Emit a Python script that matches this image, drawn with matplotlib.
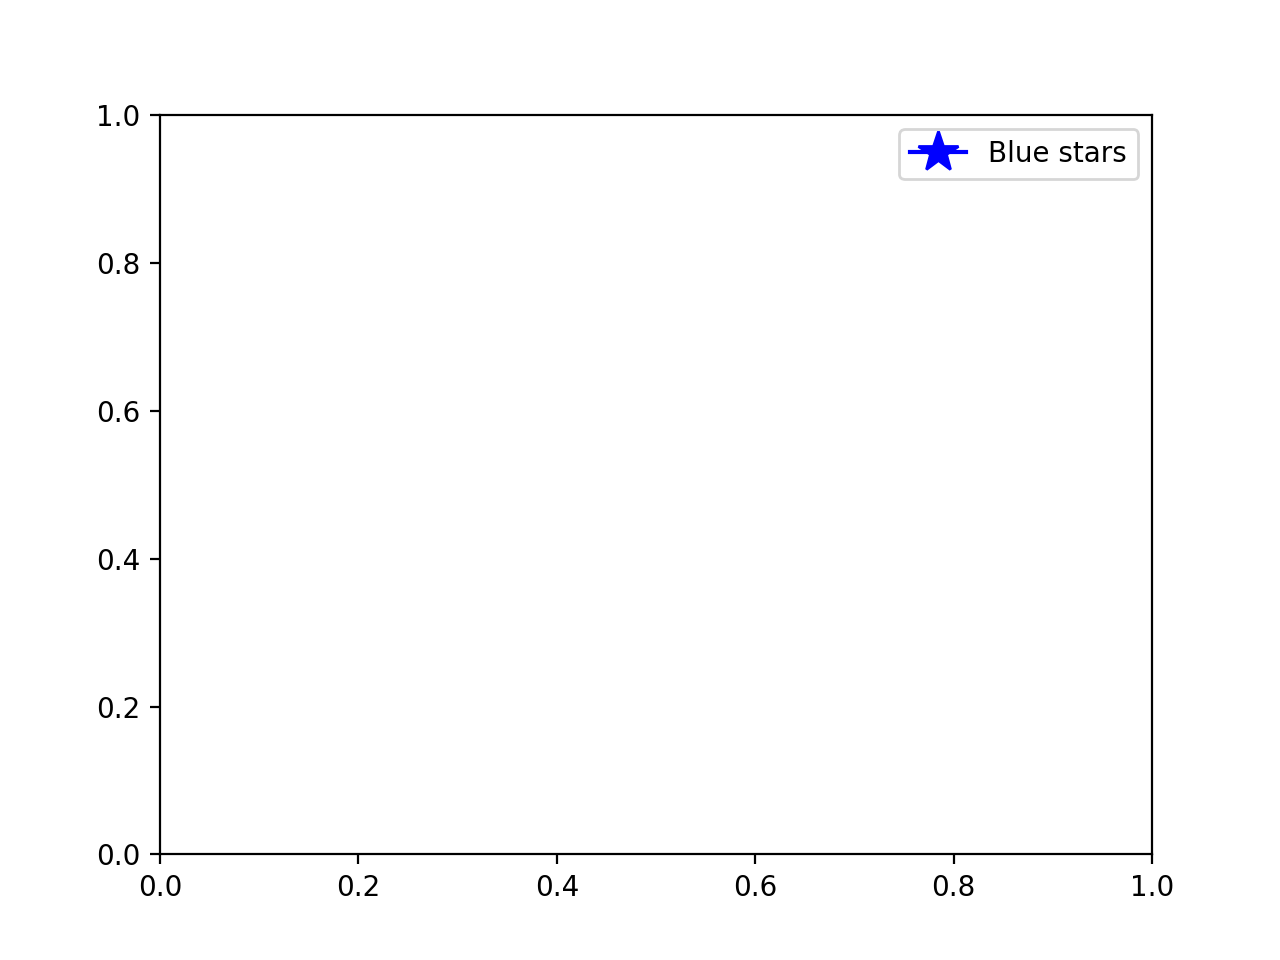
import matplotlib
matplotlib.use('Agg')
import matplotlib.pyplot as plt
import matplotlib.lines as mlines

# legend entry only, no data drawn
labels = ['Blue stars']
colors = ['blue']
markers = ['*']

fig, ax = plt.subplots(figsize=(6.4, 4.8), dpi=200)

handles = [mlines.Line2D([], [], color=c, marker=m, markersize=15, label=l)
           for l, c, m in zip(labels, colors, markers)]
ax.legend(handles=handles)

plt.savefig('out.png', dpi=200)
